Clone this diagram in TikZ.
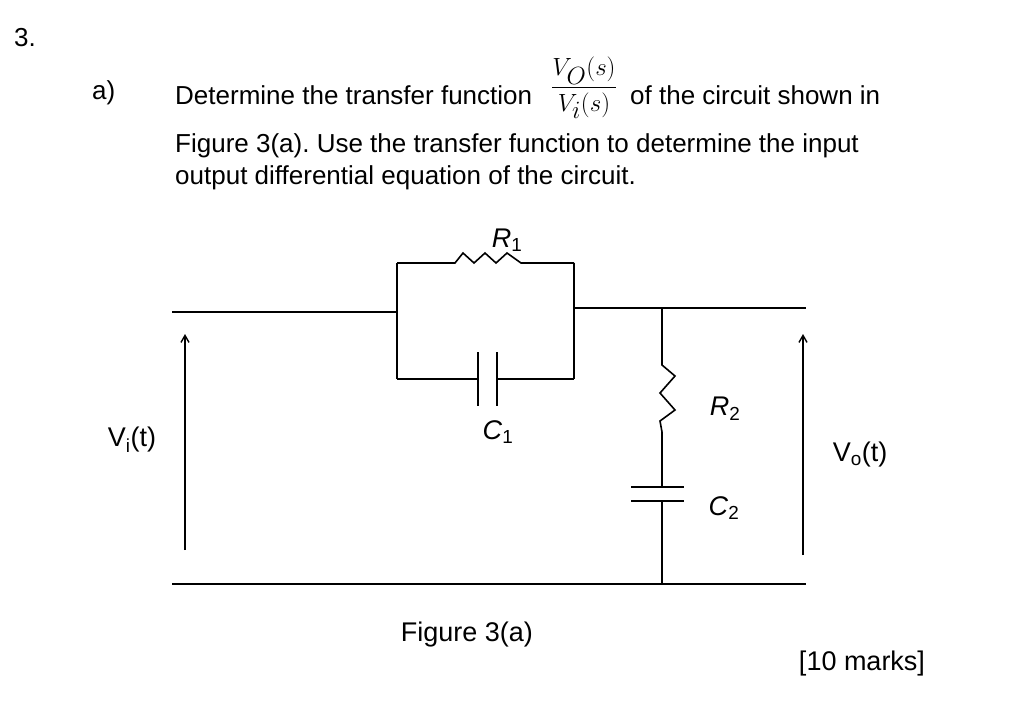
\documentclass[tikz,border=0pt]{standalone}
\usepackage{fontspec}
\setmainfont{Liberation Sans}
\usepackage{amsmath}
\usetikzlibrary{arrows.meta}
\frenchspacing
\begin{document}
\begin{tikzpicture}[x=1pt,y=-1pt,
  wire/.style={line width=1.6pt},
  txt/.style={anchor=west,inner sep=0pt,font=\fontsize{26}{30}\selectfont},
  lbl/.style={inner sep=0pt,font=\fontsize{27}{32}\selectfont},
  volt/.style={line width=1.4pt,-{Straight Barb[length=7pt,width=8pt]}}]
\useasboundingbox (0,0) rectangle (1024,724);

% Text
\node [txt] (num) at (14,38) {3.};
\node [txt] (part) at (92,93) {a)};
\node [txt] (l1) at (175,95) {Determine the transfer function};
\node [lbl,font=\fontsize{34}{40}\selectfont] (tf) at (584,88) {$\dfrac{V_O(s)}{V_i(s)}$};
\node [txt] (l1b) at (630,95) {of the circuit shown in};
\node [txt] (l2) at (175,146) {Figure 3(a). Use the transfer function to determine the input};
\node [txt] (l3) at (175,178) {output differential equation of the circuit.};

%coordinates
\coordinate (inL) at (172,312);
\coordinate (bxL) at (397,312);
\coordinate (bxTL) at (397,263);
\coordinate (bxBL) at (397,379);
\coordinate (bxTR) at (574,263);
\coordinate (bxBR) at (574,379);
\coordinate (bxR) at (574,308);
\coordinate (outR) at (806,308);
\coordinate (jT) at (662,308);
\coordinate (jB) at (662,584);
\coordinate (gL) at (172,584);
\coordinate (gR) at (806,584);

% Wires
\draw [wire] (inL) -- (bxL);
\draw [wire] (bxTL) -- (bxBL);
\draw [wire] (bxTR) -- (bxBR);
\draw [wire] (bxR) -- (outR);
\draw [wire] (gL) -- (gR);

% R1
\draw [wire] (bxTL) -- (455,263) -- (463,253) -- (474,263) -- (485,253) -- (496,263) -- (507,253) -- (521,263) -- (bxTR);
% C1
\draw [wire] (bxBL) -- (478,379) (478,352) -- (478,406);
\draw [wire] (497,352) -- (497,406) (497,379) -- (bxBR);
% R2
\draw [wire] (jT) -- (662,365) -- (675,376) -- (660,393) -- (675,410) -- (660,421) -- (662,432) -- (662,487);
% C2
\draw [wire] (631,487) -- (684,487) (631,501) -- (684,501);
\draw [wire] (662,501) -- (jB);

% Labels
\node [lbl] (R1) at (507,240) {\textit{R}\textsubscript{1}};
\node [lbl] (C1) at (498,432) {\textit{C}\textsubscript{1}};
\node [lbl] (R2) at (725,409) {\textit{R}\textsubscript{2}};
\node [lbl] (C2) at (724,508) {\textit{C}\textsubscript{2}};

% Voltages
\coordinate (vi0) at (185,550);
\coordinate (vi1) at (185,334);
\coordinate (vo0) at (803,555);
\coordinate (vo1) at (803,334);
\draw [volt] (vi0) -- (vi1);
\draw [volt] (vo0) -- (vo1);
\node [lbl] (Vi) at (132,440) {V\textsubscript{i}(t)};
\node [lbl] (Vo) at (860,455) {V\textsubscript{o}(t)};

\node [lbl] (fig) at (467,635) {Figure 3(a)};
\node [lbl] (marks) at (862,664) {[10 marks]};
\end{tikzpicture}
\end{document}
